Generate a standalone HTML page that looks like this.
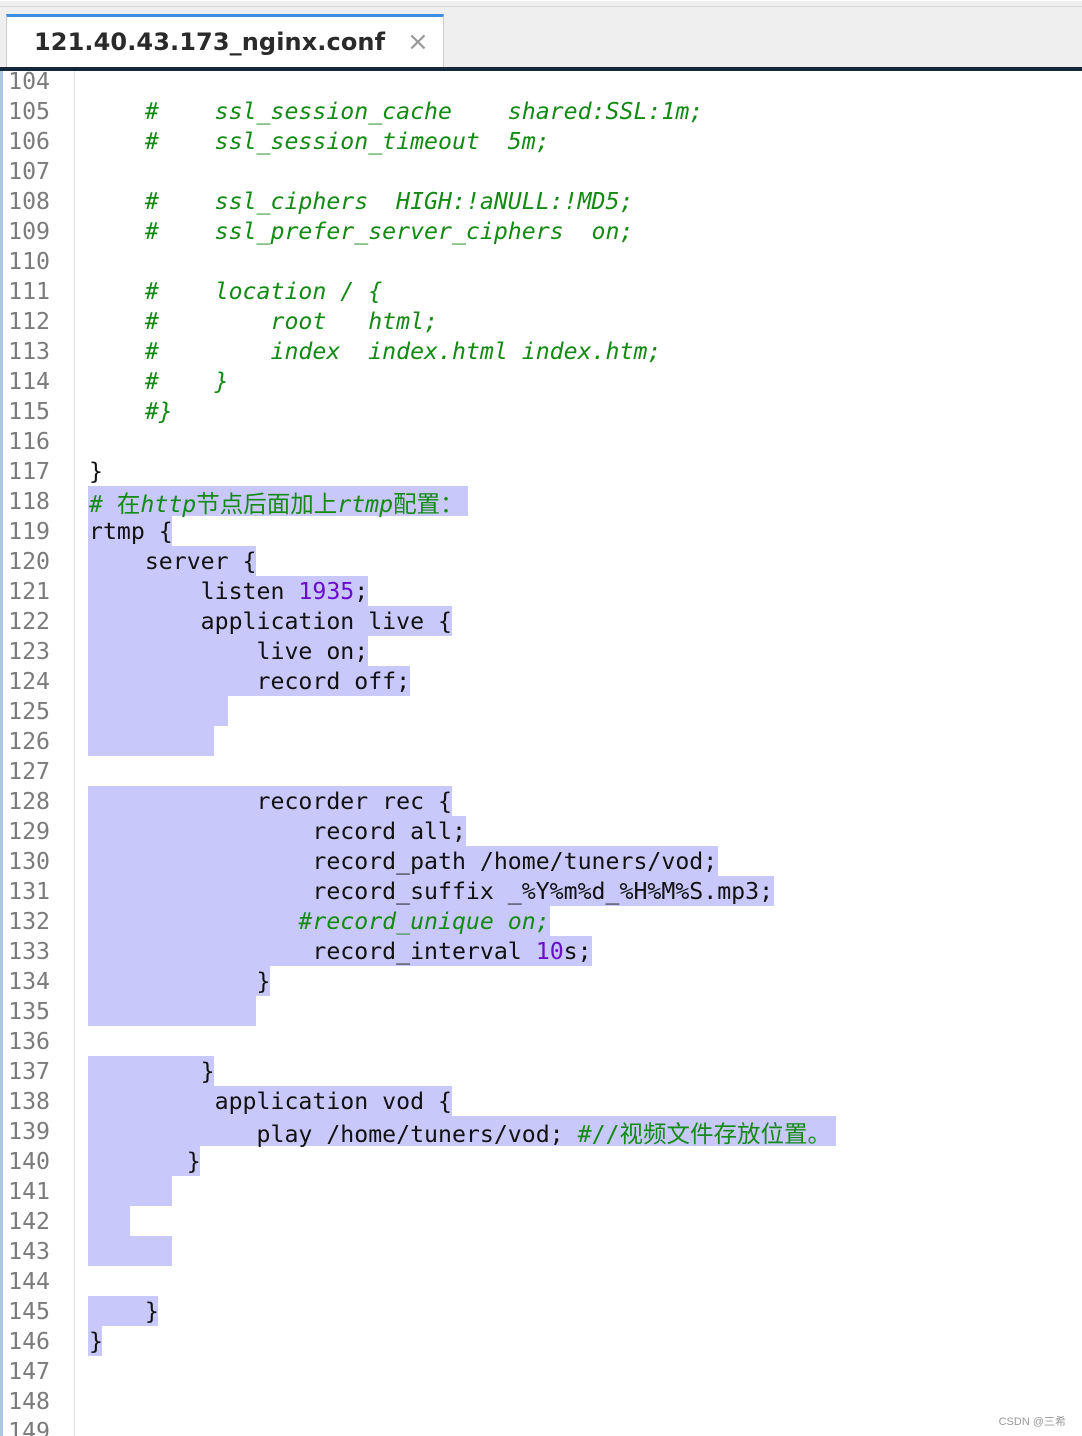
<!DOCTYPE html>
<html><head><meta charset="utf-8"><style>
body{margin:0;width:1082px;height:1436px;overflow:hidden;background:#fff;position:relative;font-family:"DejaVu Sans Mono","Liberation Mono",monospace;}
#top{position:absolute;left:0;top:0;width:1082px;height:67px;background:#efefef;border-top:1px solid #fff;}
#topline{position:absolute;left:0;top:6px;width:1082px;height:1px;background:#d8d8d8;}
#tab{position:absolute;left:6px;top:14px;width:438px;height:54px;background:#fff;border-top:3px solid #3d8fe6;box-sizing:border-box;border-left:1px solid #ccc;border-right:1px solid #ccc;}
#tabt{position:absolute;left:27px;top:11px;font:bold 24px "DejaVu Sans","Liberation Sans",sans-serif;color:#2a2a2a;letter-spacing:0.1px}
#tabx{position:absolute;left:400px;top:10px;font:26px "DejaVu Sans",sans-serif;color:#999}
#dark{position:absolute;left:0;top:67px;width:1082px;height:4px;background:#14283a;}
#ed{position:absolute;left:0;top:71px;width:1082px;height:1365px;overflow:hidden;}
#blue{position:absolute;left:0;top:0;width:3px;height:1365px;background:#a9c6e8}
#gut{position:absolute;left:74px;top:0;width:1px;height:1365px;background:#e2e2e2}
.n{position:absolute;left:0;width:50px;text-align:right;font-size:23.2px;color:#7b7b7b;height:30px;line-height:32px}
.l{position:absolute;left:89px;font-size:23.2px;height:30px;line-height:32px;white-space:pre;color:#111}
.h{position:absolute;left:88px;height:30px;background:#c8c8fb}
.c{color:#138a13;font-style:italic}
.g{color:#138a13}
.p{color:#6a0ccc}
.cj{font-family:"Noto Sans CJK SC",sans-serif;font-style:normal}
#wm{position:absolute;right:16px;top:1413px;font:11px "Liberation Sans","Noto Sans CJK SC",sans-serif;color:#999}
</style></head><body>
<div id="top"></div><div id="topline"></div>
<div id="tab"><div id="tabt">121.40.43.173_nginx.conf</div><div id="tabx">×</div></div>
<div id="dark"></div>
<div id="ed">
<div id="blue"></div><div id="gut"></div>
<div class="h" style="top:415px;width:380px"></div>
<div class="h" style="top:445px;width:84px"></div>
<div class="h" style="top:475px;width:168px"></div>
<div class="h" style="top:505px;width:280px"></div>
<div class="h" style="top:535px;width:364px"></div>
<div class="h" style="top:565px;width:280px"></div>
<div class="h" style="top:595px;width:322px"></div>
<div class="h" style="top:625px;width:140px"></div>
<div class="h" style="top:655px;width:126px"></div>
<div class="h" style="top:715px;width:364px"></div>
<div class="h" style="top:745px;width:378px"></div>
<div class="h" style="top:775px;width:630px"></div>
<div class="h" style="top:805px;width:686px"></div>
<div class="h" style="top:835px;width:462px"></div>
<div class="h" style="top:865px;width:504px"></div>
<div class="h" style="top:895px;width:182px"></div>
<div class="h" style="top:925px;width:168px"></div>
<div class="h" style="top:985px;width:126px"></div>
<div class="h" style="top:1015px;width:364px"></div>
<div class="h" style="top:1045px;width:748px"></div>
<div class="h" style="top:1075px;width:112px"></div>
<div class="h" style="top:1105px;width:84px"></div>
<div class="h" style="top:1135px;width:42px"></div>
<div class="h" style="top:1165px;width:84px"></div>
<div class="h" style="top:1225px;width:70px"></div>
<div class="h" style="top:1255px;width:14px"></div>

<div class="n" style="top:-5px">104</div>
<div class="n" style="top:25px">105</div><div class="l c" style="top:25px">    #    ssl_session_cache    shared:SSL:1m;</div>
<div class="n" style="top:55px">106</div><div class="l c" style="top:55px">    #    ssl_session_timeout  5m;</div>
<div class="n" style="top:85px">107</div>
<div class="n" style="top:115px">108</div><div class="l c" style="top:115px">    #    ssl_ciphers  HIGH:!aNULL:!MD5;</div>
<div class="n" style="top:145px">109</div><div class="l c" style="top:145px">    #    ssl_prefer_server_ciphers  on;</div>
<div class="n" style="top:175px">110</div>
<div class="n" style="top:205px">111</div><div class="l c" style="top:205px">    #    location / {</div>
<div class="n" style="top:235px">112</div><div class="l c" style="top:235px">    #        root   html;</div>
<div class="n" style="top:265px">113</div><div class="l c" style="top:265px">    #        index  index.html index.htm;</div>
<div class="n" style="top:295px">114</div><div class="l c" style="top:295px">    #    }</div>
<div class="n" style="top:325px">115</div><div class="l c" style="top:325px">    #}</div>
<div class="n" style="top:355px">116</div>
<div class="n" style="top:385px">117</div><div class="l" style="top:385px">}</div>
<div class="n" style="top:415px">118</div><div class="l c" style="top:415px"># <span class="cj" style="font-size:23.5px">在</span>http<span class="cj" style="font-size:23.5px">节点后面加上</span>rtmp<span class="cj" style="font-size:23.5px">配置：</span></div>
<div class="n" style="top:445px">119</div><div class="l" style="top:445px">rtmp {</div>
<div class="n" style="top:475px">120</div><div class="l" style="top:475px">    server {</div>
<div class="n" style="top:505px">121</div><div class="l" style="top:505px">        listen <span class="p">1935</span>;</div>
<div class="n" style="top:535px">122</div><div class="l" style="top:535px">        application live {</div>
<div class="n" style="top:565px">123</div><div class="l" style="top:565px">            live on;</div>
<div class="n" style="top:595px">124</div><div class="l" style="top:595px">            record off;</div>
<div class="n" style="top:625px">125</div>
<div class="n" style="top:655px">126</div>
<div class="n" style="top:685px">127</div>
<div class="n" style="top:715px">128</div><div class="l" style="top:715px">            recorder rec {</div>
<div class="n" style="top:745px">129</div><div class="l" style="top:745px">                record all;</div>
<div class="n" style="top:775px">130</div><div class="l" style="top:775px">                record_path /home/tuners/vod;</div>
<div class="n" style="top:805px">131</div><div class="l" style="top:805px">                record_suffix _%Y%m%d_%H%M%S.mp3;</div>
<div class="n" style="top:835px">132</div><div class="l c" style="top:835px">               #record_unique on;</div>
<div class="n" style="top:865px">133</div><div class="l" style="top:865px">                record_interval <span class="p">10</span>s;</div>
<div class="n" style="top:895px">134</div><div class="l" style="top:895px">            }</div>
<div class="n" style="top:925px">135</div>
<div class="n" style="top:955px">136</div>
<div class="n" style="top:985px">137</div><div class="l" style="top:985px">        }</div>
<div class="n" style="top:1015px">138</div><div class="l" style="top:1015px">         application vod {</div>
<div class="n" style="top:1045px">139</div><div class="l" style="top:1045px">            play /home/tuners/vod; <span class="g">#//<span class="cj" style="font-size:23.5px">视频文件存放位置。</span></span></div>
<div class="n" style="top:1075px">140</div><div class="l" style="top:1075px">       }</div>
<div class="n" style="top:1105px">141</div>
<div class="n" style="top:1135px">142</div>
<div class="n" style="top:1165px">143</div>
<div class="n" style="top:1195px">144</div>
<div class="n" style="top:1225px">145</div><div class="l" style="top:1225px">    }</div>
<div class="n" style="top:1255px">146</div><div class="l" style="top:1255px">}</div>
<div class="n" style="top:1285px">147</div>
<div class="n" style="top:1315px">148</div>
<div class="n" style="top:1345px">149</div>
</div>
<div id="wm">CSDN @三希</div>
</body></html>
